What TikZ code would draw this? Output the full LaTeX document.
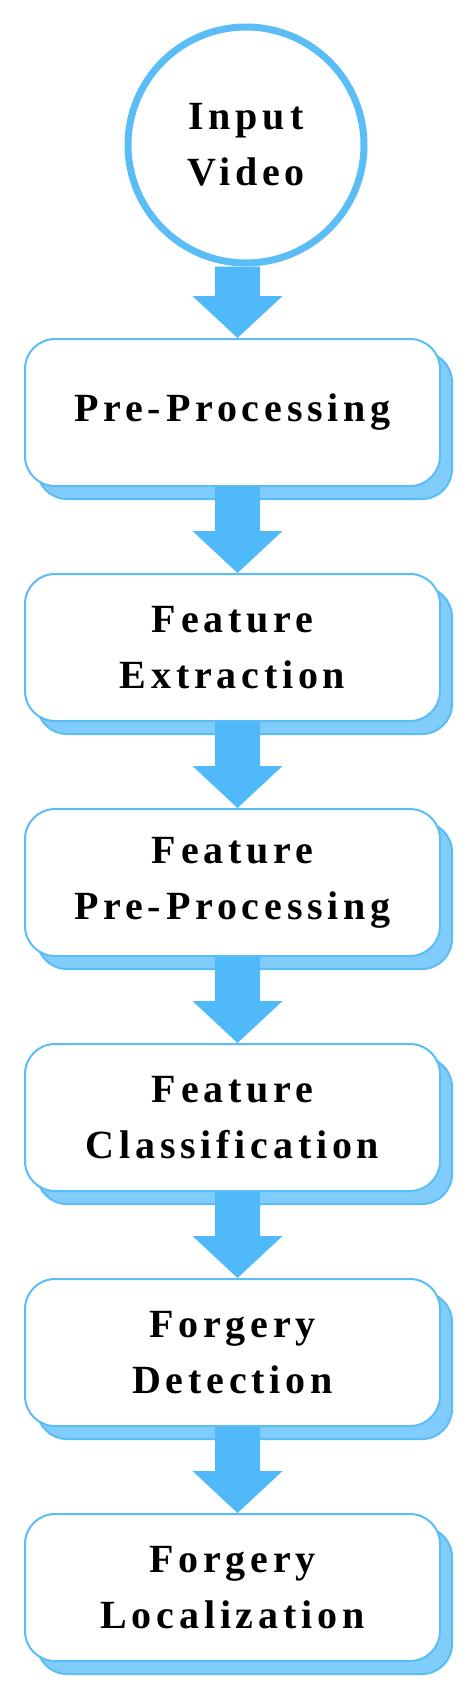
\documentclass[tikz,border=0pt]{standalone}
\usepackage{fontspec}
\setmainfont{Liberation Serif}[LetterSpace=12]
\usetikzlibrary{positioning, shadows, calc}
\definecolor{lineblue}{HTML}{5BBDF5}
\definecolor{shadeblue}{HTML}{80CCFA}
\definecolor{arrowblue}{HTML}{4FB9F9}

\tikzset{
  stage/.style={draw=lineblue, line width=2pt, fill=white, rounded corners=30pt,
    minimum width=415pt, minimum height=147pt, align=center,
    font=\bfseries\fontsize{40}{56}\selectfont,
    general shadow={shadow xshift=12pt, shadow yshift=-13pt, fill=shadeblue, draw=lineblue, line width=2pt}},
  source/.style={circle, draw=lineblue, line width=7pt, fill=white, minimum size=236pt,
    align=center, font=\bfseries\fontsize{40}{56}\selectfont},
  flow/.style={fill=arrowblue}
}

\begin{document}
\begin{tikzpicture}[x=1pt, y=-1pt, node distance=86pt]
\useasboundingbox (0,0) rectangle (474,1687);
\node [source] (vid) at (246,145) {Input\\Video};
\node [stage] (pre) at (232.5,412.5) {Pre-Processing};
\node [stage, below=of pre] (fext) {Feature\\Extraction};
\node [stage, below=of fext] (fpre) {Feature\\Pre-Processing};
\node [stage, below=of fpre] (fcls) {Feature\\Classification};
\node [stage, below=of fcls] (fdet) {Forgery\\Detection};
\node [stage, below=of fdet] (floc) {Forgery\\Localization};
% block arrows between the stages
\foreach \a/\b in {vid/pre, pre/fext, fext/fpre, fpre/fcls, fcls/fdet, fdet/floc}
  \fill[flow] ($(\a.south -| \b.north)+(-17.5,0)$) -- ($(\b.north)+(-17.5,-42)$)
    -- ($(\b.north)+(-40,-42)$) -- ($(\b.north)+(5,0)$) -- ($(\b.north)+(50,-42)$)
    -- ($(\b.north)+(27.5,-42)$) -- ($(\a.south -| \b.north)+(27.5,0)$) -- cycle;
\end{tikzpicture}
\end{document}
